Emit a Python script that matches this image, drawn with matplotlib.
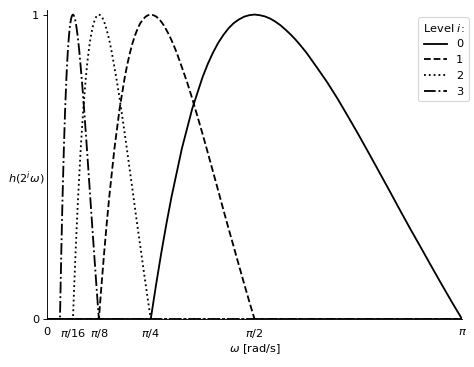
import numpy as np
import matplotlib
matplotlib.use("Agg")
from matplotlib import pyplot as plt

# level-0 filter h(w) (w in units of pi)
w0 = [0.250, 0.2625, 0.275, 0.2875, 0.300, 0.325, 0.350, 0.375, 0.3875, 0.400,
      0.4125, 0.425, 0.4375, 0.450, 0.4625, 0.475, 0.4875, 0.500, 0.5125, 0.525,
      0.5375, 0.550, 0.5625, 0.575, 0.5875, 0.600, 0.6125, 0.625, 0.650, 0.675,
      0.700, 0.725, 0.750, 0.775, 0.800, 0.825, 0.850, 0.875, 0.900, 0.925,
      0.950, 0.975, 1.000]
h0 = [0.000, 0.110, 0.214, 0.311, 0.401, 0.560, 0.691, 0.795, 0.838, 0.875,
      0.907, 0.933, 0.955, 0.972, 0.984, 0.993, 0.998, 1.000, 0.998, 0.994,
      0.987, 0.977, 0.965, 0.950, 0.934, 0.916, 0.896, 0.875, 0.827, 0.778,
      0.724, 0.666, 0.607, 0.546, 0.484, 0.422, 0.359, 0.297, 0.237, 0.176,
      0.116, 0.057, 0.000]

levels = [0, 1, 2, 3]
styles = ['-', '--', ':', '-.']

xtick_vals = [0, np.pi/16, np.pi/8, np.pi/4, np.pi/2, np.pi]
xtick_labels = ['0', r'$\pi/16$', r'$\pi/8$', r'$\pi/4$', r'$\pi/2$', r'$\pi$']

DPI = 82
fig = plt.figure(figsize=(474/DPI, 367/DPI), dpi=DPI)
ax = fig.add_axes([47/474, 48/367, 415/474, 309/367])

for lev, ls in zip(levels, styles):
  # h(2^i w): same shape squeezed by 2^i, zero elsewhere on [0, pi]
  w = np.array(w0) * np.pi / 2**lev
  x = np.concatenate(([0.0], w, [np.pi]))
  y = np.concatenate(([0.0], h0, [0.0]))
  ax.plot(x, y, color='k', linestyle=ls, linewidth=1.6, label=str(lev))

ax.set_xlim(0, np.pi)
ax.set_ylim(0, 1.015)
ax.set_xticks(xtick_vals)
ax.set_xticklabels(xtick_labels)
ax.set_yticks([0, 1])
ax.tick_params(axis='x', length=0, pad=7)
ax.spines['top'].set_visible(False)
ax.spines['right'].set_visible(False)

ax.set_xlabel(r'$\omega$ [rad/s]', labelpad=2)
ax.set_ylabel(r'$h(2^i\omega)$', rotation=0, ha='center', va='center')
ax.yaxis.set_label_coords(-0.05, 0.455)

ax.legend(title=r'Level $i$:', loc='upper right', bbox_to_anchor=(1.03, 0.995))

fig.savefig('out.png', dpi=DPI)
